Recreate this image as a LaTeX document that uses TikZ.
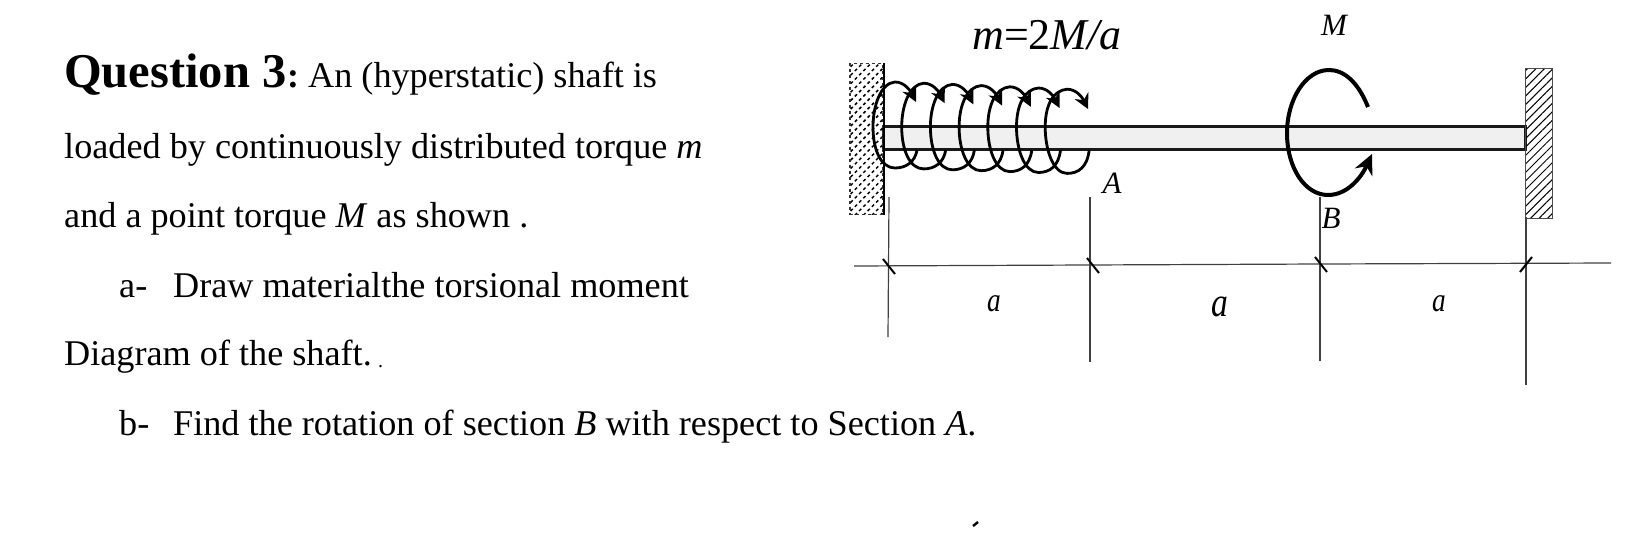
\documentclass[tikz,border=0pt]{standalone}
\usepackage{fontspec}
\setmainfont{Liberation Serif}
\usetikzlibrary{patterns.meta,arrows.meta}
\newcommand{\txtsize}{\fontsize{36.2}{40}\selectfont}
\newcommand{\thin}[1]{\scalebox{1.05}[1.3]{#1}}
\tikzset{%
  line/.style={anchor=base west, inner sep=0pt, font=\txtsize},
  dimline/.style={draw=black!75, line width=1.2pt},
  tick/.style={draw=black, line width=2pt},
  coil/.style={draw=black, line width=2.8pt},
  fig/.style={anchor=base, inner sep=0pt, font=\fontsize{31}{34}\selectfont\itshape}
}
\begin{document}
\begin{tikzpicture}[x=1pt, y=-1pt]
  \useasboundingbox (0, 0) rectangle (1651, 544);
  % question text
  \node [line, font=\fontsize{48.5}{50}\selectfont\bfseries] (Qhead) at (64, 87) {Question 3};
  \node [line, font=\fontsize{36}{40}\selectfont\bfseries] (Qcolon) at (287, 87) {:};
  \node [line] (Qone) at (308, 87) {An (hyperstatic) shaft is};
  \node [line] (Qtwo) at (64, 158) {loaded by continuously distributed torque \textit{m}};
  \node [line] (Qthree) at (64, 227) {and a point torque \textit{M} as shown .};
  \node [line] (Qa) at (119, 297) {a-};
  \node [line] (Qatxt) at (173, 297) {Draw materialthe torsional moment};
  \node [line] (Qdiag) at (64, 365) {Diagram of the shaft.};
  \node [line, font=\fontsize{20}{22}\selectfont] (Qdot) at (378, 367) {.};
  \node [line] (Qb) at (119, 435) {b-};
  \node [line] (Qbtxt) at (173, 435) {Find the rotation of section \textit{B} with respect to Section \textit{A}.};
  \coordinate (Ma) at (973, 526);
  \coordinate (Mb) at (978, 522);
  \draw [line width=2.4pt] (Ma) -- (Mb);

  % shaft and walls
  \draw [black!90, line width=3pt, fill=black!6] (883, 126) rectangle (1525, 149);
  \node [draw=black!80, dashed, line width=1.2pt, pattern={Lines[angle=45, distance=6pt, line width=1.5pt]},
    minimum width=33pt, minimum height=151pt, inner sep=0pt] (Wleft) at (866.5, 139) {};
  \node [draw=black!70, line width=1pt, pattern={Lines[angle=45, distance=6pt, line width=1pt]},
    minimum width=27pt, minimum height=150pt, inner sep=0pt] (Wright) at (1539, 143) {};
  \draw [black, line width=2.5pt] (Wleft.north east) -- (Wleft.south east);

  % distributed torque
  \foreach \k in {0, ..., 6} {
    \pgfmathsetmacro{\xl}{873 + 28.7*\k}
    \pgfmathsetmacro{\dt}{1.2*\k}
    \pgfmathsetmacro{\db}{0.9*\k}
    \draw [coil, -{Stealth[length=15pt, width=15pt]}] (\xl+44, 150)
      .. controls (\xl+42, 162+\db) and (\xl+33, 168+\db) .. (\xl+22, 168+\db)
      .. controls (\xl+8, 168+\db) and (\xl, 150) .. (\xl, 127)
      .. controls (\xl, 105) and (\xl+8, 83+\dt) .. (\xl+22, 82+\dt)
      .. controls (\xl+31, 82+\dt) and (\xl+37, 90+\dt) .. (\xl+43, 102+\dt);
  }

  % point torque
  \draw [black, line width=4pt, -{Stealth[length=20pt, width=19pt]}] (1368, 107)
    .. controls (1358, 82) and (1344, 70) .. (1329, 70)
    .. controls (1305, 70) and (1287, 100) .. (1287, 133)
    .. controls (1287, 168) and (1305, 195) .. (1328, 195)
    .. controls (1347, 195) and (1361, 178) .. (1372, 154);

  % labels
  \node [fig, font=\fontsize{44}{46}\selectfont] (Lm) at (1047, 49) {\textit{m}\textup{=2}\textit{M/a}};
  \node [fig] (LM) at (1334, 35) {M};
  \node [fig] (LA) at (1112, 193) {A};
  \node [fig] (LB) at (1331, 228) {B};
  \node [fig, font=\fontsize{26}{28}\selectfont\itshape] (La) at (994, 311) {\thin{a}};
  \node [fig, font=\fontsize{32}{34}\selectfont\itshape] (Lb) at (1220, 316) {\thin{a}};
  \node [fig, font=\fontsize{26}{28}\selectfont\itshape] (Lc) at (1439, 311) {\thin{a}};

  % dimension lines
  \coordinate (Da) at (889, 197);
  \coordinate (Db) at (888, 337);
  \coordinate (Dc) at (1090, 197);
  \coordinate (Dd) at (1090, 362);
  \coordinate (De) at (1320, 197);
  \coordinate (Df) at (1320, 361);
  \coordinate (Dg) at (1526, 217);
  \coordinate (Dh) at (1526, 385);
  \coordinate (Di) at (854, 266);
  \coordinate (Dj) at (1320, 264);
  \coordinate (Dk) at (1611, 263);
  \draw [dimline] (Da) -- (Db);
  \draw [dimline] (Dc) -- (Dd);
  \draw [dimline] (De) -- (Df);
  \draw [dimline] (Dg) -- (Dh);
  \draw [dimline] (Di) -- (Dj) -- (Dk);
  \foreach \x/\y/\s in {889/266/1, 1093/265/1, 1321/264/1, 1526/264/-1} {
    \draw [tick] (\x-6*\s, \y-7) -- (\x+6*\s, \y+8);
  }
\end{tikzpicture}
\end{document}
